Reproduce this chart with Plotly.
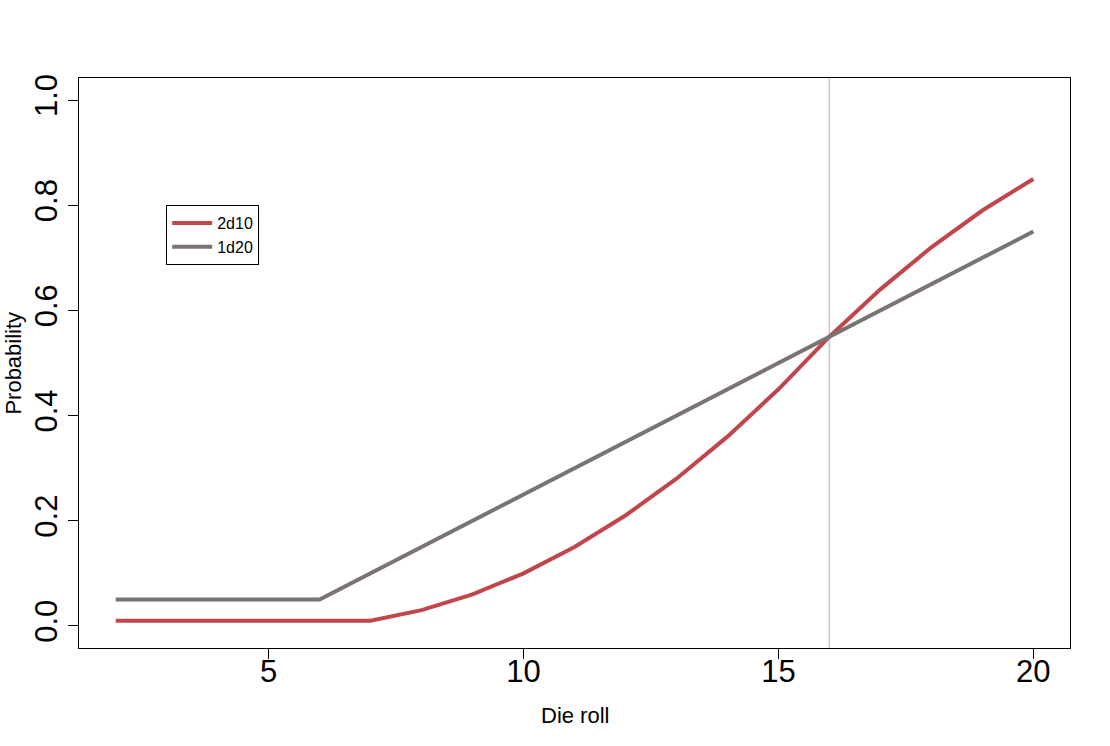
import plotly.graph_objects as go

rolls = list(range(2, 21))
p_2d10 = [0.01, 0.01, 0.01, 0.01, 0.01, 0.01, 0.03, 0.06, 0.10, 0.15, 0.21, 0.28,
          0.36, 0.45, 0.55, 0.64, 0.72, 0.79, 0.85]
p_1d20 = [0.05, 0.05, 0.05, 0.05, 0.05, 0.10, 0.15, 0.20, 0.25, 0.30, 0.35, 0.40,
          0.45, 0.50, 0.55, 0.60, 0.65, 0.70, 0.75]
vline_x = 16
x_ticks = [5, 10, 15, 20]
y_ticks = [0.0, 0.2, 0.4, 0.6, 0.8, 1.0]
y_labels = ["0.0", "0.2", "0.4", "0.6", "0.8", "1.0"]

font = "Liberation Sans, Arial, Helvetica, sans-serif"

fig = go.Figure()
fig.add_trace(go.Scatter(x=[vline_x, vline_x], y=[-0.042, 1.042], mode="lines",
                         line=dict(color="#c8c8c8", width=1.5), showlegend=False,
                         hoverinfo="skip"))
fig.add_trace(go.Scatter(x=rolls, y=p_2d10, mode="lines", name="2d10",
                         line=dict(color="#c1464b", width=4)))
fig.add_trace(go.Scatter(x=rolls, y=p_1d20, mode="lines", name="1d20",
                         line=dict(color="#797472", width=4)))

fig.update_layout(
    width=1110, height=746,
    margin=dict(l=79, r=40, t=78, b=98, autoexpand=False),
    paper_bgcolor="white", plot_bgcolor="white",
    font=dict(family=font, color="black"),
    legend=dict(x=0.088, y=0.777, xanchor="left", yanchor="top",
                bordercolor="black", borderwidth=1, bgcolor="white",
                font=dict(size=16, family=font), tracegroupgap=0,
                itemwidth=40),
    xaxis=dict(range=[1.28, 20.72], tickvals=x_ticks, ticks="outside", ticklen=10,
               tickcolor="black", showline=True, linecolor="black", linewidth=1,
               mirror=True, showgrid=False, zeroline=False, automargin=False,
               tickfont=dict(size=31, family=font), ticklabelstandoff=-14),
    yaxis=dict(range=[-0.042, 1.042], tickvals=y_ticks, ticktext=y_labels,
               ticks="outside", ticklen=10, tickcolor="black", tickangle=-90,
               showline=True, linecolor="black", linewidth=1, mirror=True,
               showgrid=False, zeroline=False, automargin=False,
               tickfont=dict(size=31, family=font), ticklabelstandoff=-1),
    annotations=[
        dict(text="Die roll", xref="paper", yref="paper", x=0.5, y=-0.118,
             xanchor="center", yanchor="middle", showarrow=False,
             font=dict(size=22, family=font)),
        dict(text="Probability", xref="paper", yref="paper", x=-0.067, y=0.5,
             xanchor="center", yanchor="middle", textangle=-90, showarrow=False,
             font=dict(size=22, family=font)),
    ],
)

fig.write_html("out.html", config={"displayModeBar": False},
               post_script="document.body.style.margin='0';")
